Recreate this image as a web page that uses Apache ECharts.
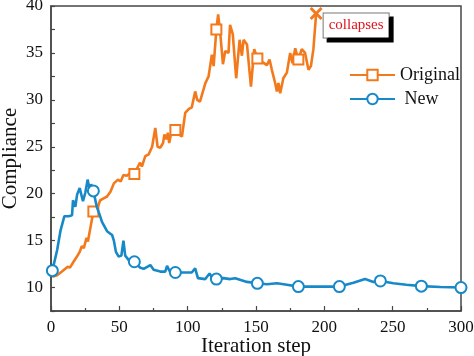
<!DOCTYPE html>
<html>
<head>
<meta charset="utf-8">
<script src="https://cdn.jsdelivr.net/npm/echarts@6/dist/echarts.min.js"></script>
<style>
html,body{margin:0;padding:0;background:#fff;}
#chart{width:474px;height:356px;}
</style>
</head>
<body>
<div id="chart"></div>
<script>
// ---- data ----
const origSteps = [1,4.5,8,12,14,16.5,19,21,22.5,24,26,27,29,31,34,36,38.5,41,43.5,46,47,49,51,53,55.5,58,61,65,66.5,69,71.5,74,76.3,78,80,82,83,84.5,85.5,86.5,88,91,93.5,95.8,98.2,100.7,103,105.5,107,109,113,115.3,117.7,119,121,122.3,123.8,125.8,127.5,129.9,131,133,135.5,138,139.7,140.9,143.4,146.3,148.7,151,155,158,159.9,161.6,164,165.3,166.4,167.7,170,172.6,175,176.7,178.7,181,183.5,185.9,188.4,190.2,192,194];
const origVals  = [11.15,11.3,11.7,12.2,12.15,12.75,13.3,13.8,14.4,14.2,15.3,14.9,16.5,18.1,18.5,19.3,19.5,19.7,20.2,21.1,20.9,21.5,21.3,22.0,21.9,22.2,22.1,23.3,22.9,24.0,24.2,25.0,27.0,25.0,24.9,25.4,26.3,25.8,26.5,25.4,26.5,26.8,26.3,26.1,28.6,29.0,29.2,30.9,30.0,29.8,31.8,32.5,34.8,33.6,37.5,39.1,37.2,33.8,35.2,35.0,38.0,37.0,32.3,36.4,34.7,36.4,35.9,31.4,35.4,34.4,34.0,33.7,34.3,33.2,31.8,30.9,31.8,30.7,32.3,32.9,35.0,33.9,35.5,34.3,35.4,35.0,33.2,33.6,35.4,39.2];
const origMarkSteps = [31,61,91,121,151,181];
const collapseStep = 194;
const collapseText = 'collapses';

const newSteps = [1,4.5,7,9.8,13,15.4,16.1,17.8,19.1,21,22,23.4,25.1,26.8,28.3,29.3,31,33.5,35.5,37.3,41,44.7,46,47.5,49.5,51.5,53,54.3,57,61,65.4,67.8,72.7,75.1,80,83.6,84.9,87.3,91,96,100.7,103,105.5,107.5,112.9,116,117.7,121,126.2,131.1,134.8,143.4,151,158,165.3,172.6,181,195,211,221.3,229.8,235.9,241,250.5,260,271,285,300];
const newVals  = [11.8,14.0,16.1,17.6,17.6,17.7,19.3,18.6,19.9,20.6,20.8,19.2,20.1,21.5,20.4,21.0,20.3,18.6,17.8,17.0,16.0,15.6,15.0,13.8,13.3,13.4,15.0,13.4,12.9,12.75,12.1,12.0,12.4,11.9,11.7,11.7,12.3,11.6,11.6,11.6,11.6,11.6,12.05,11.0,10.9,11.5,11.1,10.9,11.0,10.9,11.0,10.6,10.45,10.35,10.45,10.3,10.1,10.1,10.1,10.5,10.9,10.6,10.7,10.45,10.3,10.15,10.05,10.0];
const newMarkSteps = [1,31,61,91,121,151,181,211,241,271,300];

const xTicks = [0,50,100,150,200,250,300];
const yTicks = [10,15,20,25,30,35,40];

// ---- styling ----
const ORANGE = '#f27a1c';
const BLUE = '#1889c8';
const AXIS = '#474747';
const FONT = '"Liberation Serif", "Times New Roman", serif';
const XPATH = 'path://M0,1.6L1.6,0L5,3.4L8.4,0L10,1.6L6.6,5L10,8.4L8.4,10L5,6.6L1.6,10L0,8.4L3.4,5Z';

const origData = origSteps.map((s, i) => {
  const item = { value: [s, origVals[i]], symbol: origMarkSteps.includes(s) ? 'emptyRect' : 'none' };
  if (s === collapseStep) {
    item.symbol = XPATH;
    item.symbolSize = 13;
    item.itemStyle = { color: ORANGE, borderWidth: 0 };
    item.label = {
      show: true, formatter: collapseText, position: 'right', distance: 1, offset: [0, 12],
      color: '#e3121d', fontFamily: FONT, fontSize: 15,
      backgroundColor: '#fff', borderColor: '#777', borderWidth: 1,
      padding: [5, 5, 4, 5],
      shadowColor: '#000', shadowBlur: 0, shadowOffsetX: 4, shadowOffsetY: 4
    };
  }
  return item;
});
const newData = newSteps.map((s, i) => ({ value: [s, newVals[i]], symbol: newMarkSteps.includes(s) ? 'emptyCircle' : 'none' }));

const chart = echarts.init(document.getElementById('chart'), null, { renderer: 'canvas' });
chart.setOption({
  animation: false,
  backgroundColor: '#fff',
  grid: { left: 51, right: 13, top: 6, bottom: 45, containLabel: false, outerBoundsMode: 'none',
    show: true, borderColor: AXIS, borderWidth: 1.5, backgroundColor: 'transparent' },
  legend: {
    left: 349, top: 66, orient: 'vertical', padding: 0, itemWidth: 45, itemHeight: 13, itemGap: 6,
    textStyle: { fontFamily: FONT, fontSize: 18, color: '#111' },
    formatter: n => (n === 'New' ? ' ' + n : n),
    data: ['Original', 'New']
  },
  xAxis: {
    type: 'value', min: 0, max: 300, interval: 50,
    name: 'Iteration step', nameLocation: 'middle', nameGap: 25, nameMoveOverlap: false,
    nameTextStyle: { fontFamily: FONT, fontSize: 21, color: '#111' },
    axisLine: { show: true, lineStyle: { color: AXIS, width: 1.5 } },
    axisTick: { show: true, inside: true, length: 5, lineStyle: { color: AXIS, width: 1.2 } },
    minorTick: { show: true, splitNumber: 2, length: 3, lineStyle: { color: AXIS, width: 1.2 } },
    axisLabel: { fontFamily: FONT, fontSize: 17, color: '#111', margin: 8,
      formatter: v => (xTicks.includes(v) ? String(v) : '') },
    splitLine: { show: false }
  },
  yAxis: {
    type: 'value', min: 7.5, max: 40, interval: 2.5,
    name: 'Compliance', nameLocation: 'middle', nameGap: 30, nameMoveOverlap: false,
    nameTextStyle: { fontFamily: FONT, fontSize: 21, color: '#111' },
    axisLine: { show: true, lineStyle: { color: AXIS, width: 1.5 } },
    axisTick: { show: true, inside: true, length: 4, lineStyle: { color: AXIS, width: 1.2 } },
    axisLabel: { fontFamily: FONT, fontSize: 17, color: '#111', margin: 8,
      formatter: v => (yTicks.includes(v) ? String(v) : '') },
    splitLine: { show: false }
  },
  series: [
    {
      name: 'Original', type: 'line', data: origData,
      symbol: 'emptyRect', symbolSize: 10, showSymbol: true, showAllSymbol: true,
      lineStyle: { color: ORANGE, width: 2.6 },
      itemStyle: { color: ORANGE, borderWidth: 1.5 },
      z: 3
    },
    {
      name: 'New', type: 'line', data: newData,
      symbol: 'emptyCircle', symbolSize: 11, showSymbol: true, showAllSymbol: true,
      lineStyle: { color: BLUE, width: 2.6 },
      itemStyle: { color: BLUE, borderWidth: 1.5 },
      z: 4
    }
  ]
});
</script>
</body>
</html>
